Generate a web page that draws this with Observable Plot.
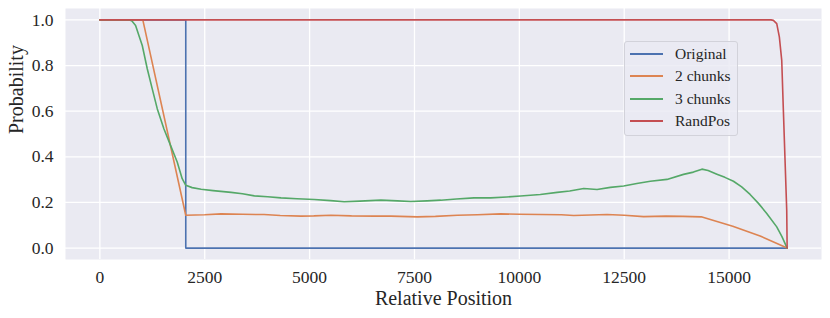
<!DOCTYPE html>
<html><head><meta charset="utf-8">
<script src="https://cdn.jsdelivr.net/npm/d3@7"></script>
<script src="https://cdn.jsdelivr.net/npm/@observablehq/plot@0.6"></script>
<style>
body{margin:0;background:#fff;}
#wrap{position:relative;width:830px;height:318px;}
#wrap svg text{font-family:"Liberation Serif","Times New Roman",serif;}
.legend{position:absolute;left:624px;top:41px;width:114px;height:95px;background:rgba(234,234,242,0.8);border:1px solid #d2d2da;border-radius:3px;box-sizing:border-box;font-family:"Liberation Serif","Times New Roman",serif;font-size:15.5px;color:#262626;}
.row{position:absolute;left:0;height:20px;display:flex;align-items:center;white-space:nowrap}
.sw{width:33px;height:2px;margin-left:5px;margin-right:12px}
</style></head>
<body><div id="wrap"></div>
<script>
const seriesNames = ["Original", "2 chunks", "3 chunks", "RandPos"];
const seriesColors = ["#4c72b0", "#dd8452", "#55a868", "#c44e52"];
const xTicks = [0, 2500, 5000, 7500, 10000, 12500, 15000];
const yTicks = [0, 0.2, 0.4, 0.6, 0.8, 1.0];

const originalX = [0, 2048, 2048, 16384];
const originalY = [1, 1, 0, 0];

const chunks2X = [0, 1024, 2048, 2500, 2890, 3400, 3914, 4300, 4794, 5100, 5508, 6000, 6538, 6936, 7570, 8000, 8522, 9000, 9553, 10000, 10505, 11000, 11297, 11700, 12092, 12500, 12962, 13500, 13900, 14336, 15087, 15739, 16384];
const chunks2Y = [1, 1, 0.144, 0.146, 0.150, 0.148, 0.147, 0.143, 0.140, 0.141, 0.144, 0.141, 0.140, 0.140, 0.137, 0.139, 0.144, 0.146, 0.150, 0.148, 0.147, 0.146, 0.143, 0.145, 0.147, 0.144, 0.138, 0.140, 0.139, 0.137, 0.096, 0.053, 0];

const chunks3X = [0, 700, 760, 852, 931, 1011, 1130, 1249, 1368, 1526, 1685, 1844, 1963, 2048, 2200, 2415, 2700, 3129, 3400, 3684, 4000, 4318, 4700, 5111, 5500, 5825, 6200, 6698, 7095, 7411, 7800, 8125, 8500, 8918, 9315, 9700, 10029, 10500, 10902, 11200, 11535, 11853, 12170, 12487, 12800, 13122, 13519, 13914, 14150, 14352, 14500, 14709, 14900, 15104, 15300, 15501, 15700, 15898, 16136, 16260, 16384];
const chunks3Y = [1, 1, 0.996, 0.975, 0.932, 0.888, 0.786, 0.698, 0.611, 0.523, 0.450, 0.377, 0.304, 0.275, 0.265, 0.258, 0.252, 0.244, 0.238, 0.229, 0.225, 0.220, 0.216, 0.213, 0.208, 0.203, 0.206, 0.210, 0.207, 0.204, 0.207, 0.210, 0.215, 0.220, 0.220, 0.224, 0.228, 0.235, 0.244, 0.250, 0.261, 0.257, 0.266, 0.272, 0.283, 0.293, 0.301, 0.323, 0.333, 0.346, 0.340, 0.324, 0.310, 0.293, 0.268, 0.235, 0.196, 0.152, 0.093, 0.05, 0];

const randPosX = [0, 16000, 16056, 16136, 16198, 16255, 16294, 16334, 16374, 16384];
const randPosY = [1, 1, 0.998, 0.984, 0.926, 0.823, 0.604, 0.385, 0.166, 0];

const seriesXs = [originalX, chunks2X, chunks3X, randPosX];
const seriesYs = [originalY, chunks2Y, chunks3Y, randPosY];
const table = [];
seriesNames.forEach((name, i) => {
  seriesXs[i].forEach((x, j) => table.push({series: name, x, y: seriesYs[i][j]}));
});

const serif = "Liberation Serif, Times New Roman, serif";
const gridStyle = {stroke: "white", strokeOpacity: 1, strokeWidth: 1.3};
const plot = Plot.plot({
  width: 830, height: 318,
  marginLeft: 65, marginRight: 9, marginTop: 8, marginBottom: 59,
  style: {fontFamily: serif, fontSize: "17.5px", color: "#262626", background: "white", overflow: "visible"},
  x: {domain: [-819, 17203]},
  y: {domain: [-0.05, 1.05]},
  color: {domain: seriesNames, range: seriesColors},
  marks: [
    Plot.frame({fill: "#eaeaf2", stroke: null}),
    Plot.gridX(xTicks, gridStyle),
    Plot.gridY(yTicks, gridStyle),
    Plot.axisX(xTicks, {tickSize: 0, tickPadding: 11, tickFormat: d3.format("d"), label: null, fontSize: 17.5, fontFamily: serif, fontVariant: "normal"}),
    Plot.axisY(yTicks, {tickSize: 0, tickPadding: 12, tickFormat: d3.format(".1f"), label: null, fontSize: 17.5, fontFamily: serif, fontVariant: "normal"}),
    Plot.text(["Relative Position"], {frameAnchor: "bottom", dy: 45.5, fontSize: 20, fill: "#262626", fontFamily: serif}),
    Plot.text(["Probability"], {frameAnchor: "left", dx: -49, rotate: -90, fontSize: 20, fill: "#262626", fontFamily: serif}),
    Plot.line(table, {x: "x", y: "y", z: "series", stroke: "series", strokeWidth: 1.6})
  ]
});
const wrap = document.getElementById("wrap");
wrap.appendChild(plot);

const legend = document.createElement("div");
legend.className = "legend";
seriesNames.forEach((name, i) => {
  const row = document.createElement("div");
  row.className = "row";
  row.style.top = (2 + i * 22.4) + "px";
  const sw = document.createElement("span");
  sw.className = "sw";
  sw.style.background = seriesColors[i];
  const t = document.createElement("span");
  t.textContent = name;
  row.appendChild(sw); row.appendChild(t);
  legend.appendChild(row);
});
wrap.appendChild(legend);
</script>
</body></html>
